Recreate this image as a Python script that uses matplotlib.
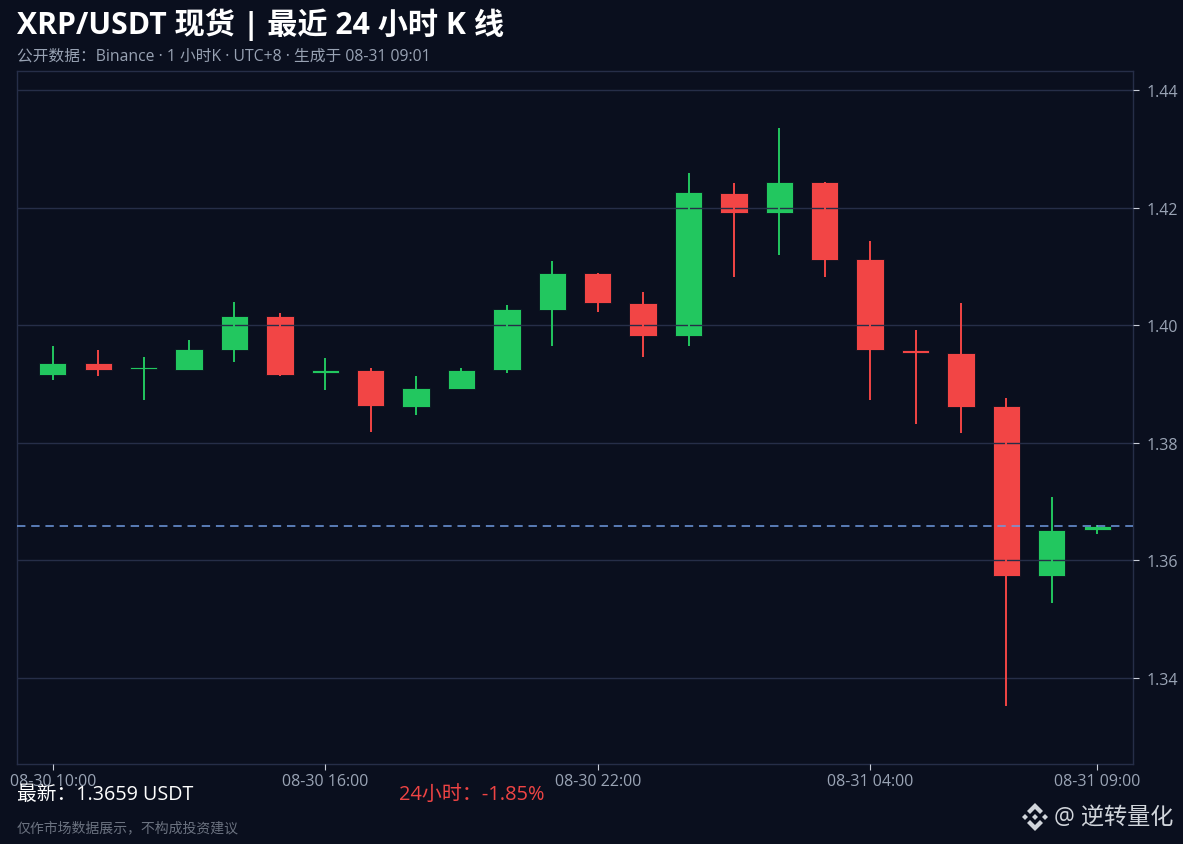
#!/usr/bin/env python
import numpy as np
import matplotlib
matplotlib.use('Agg')
import matplotlib.pyplot as plt
from matplotlib.patches import Polygon

plt.rcParams['font.family'] = ['Open Sans', 'Noto Sans CJK SC', 'DejaVu Sans']

BG = '#0a0f1e'
UP = '#22c75f'
DOWN = '#f24545'

hours = list(range(24))
opens = [1.3916, 1.3936, 1.3925, 1.3924, 1.3958, 1.4016, 1.3918, 1.3923,
         1.3861, 1.3892, 1.3923, 1.4026, 1.4088, 1.4038, 1.3982, 1.4225,
         1.4190, 1.4244, 1.4113, 1.3958, 1.3953, 1.3863, 1.3574, 1.3651]
highs = [1.3965, 1.3957, 1.3946, 1.3975, 1.4040, 1.4020, 1.3945, 1.3928,
         1.3914, 1.3928, 1.4035, 1.4110, 1.4089, 1.4057, 1.4259, 1.4242,
         1.4336, 1.4244, 1.4144, 1.3992, 1.4038, 1.3877, 1.3708, 1.3660]
lows = [1.3907, 1.3914, 1.3873, 1.3923, 1.3938, 1.3914, 1.3890, 1.3819,
        1.3848, 1.3892, 1.3919, 1.3965, 1.4023, 1.3946, 1.3965, 1.4082,
        1.4120, 1.4082, 1.3872, 1.3832, 1.3817, 1.3353, 1.3528, 1.3645]
closes = [1.3936, 1.3924, 1.3929, 1.3960, 1.4016, 1.3916, 1.3923, 1.3863,
          1.3894, 1.3924, 1.4028, 1.4089, 1.4037, 1.3982, 1.4227, 1.4191,
          1.4244, 1.4111, 1.3957, 1.3953, 1.3861, 1.3574, 1.3652, 1.3659]
last_price = 1.3659
xtick_pos = [0, 6, 12, 18, 23]
xtick_labels = ['08-30 10:00', '08-30 16:00', '08-30 22:00', '08-31 04:00', '08-31 09:00']
ytick_pos = [1.34, 1.36, 1.38, 1.40, 1.42, 1.44]

W, H = 1183, 845
fig = plt.figure(figsize=(W / 100, H / 100), dpi=100, facecolor=BG)
ax = fig.add_axes([17 / W, 1 - 764.5 / H, (1133 - 17) / W, (764 - 71) / H], facecolor=BG)

opens = np.array(opens)
closes = np.array(closes)
colors = [UP if c >= o else DOWN for o, c in zip(opens, closes)]

# 实体在网格线下面，影线在上面
ax.bar(hours, np.abs(closes - opens), bottom=np.minimum(opens, closes), width=0.6,
       color=colors, edgecolor=BG, linewidth=0.6, zorder=2)
ax.vlines(hours, lows, highs, colors=colors, linewidth=1.4, zorder=3)

ax.set_axisbelow(False)
ax.yaxis.grid(True, color='#262e48', linewidth=1)
ax.axhline(last_price, color='#6f9ae0', linewidth=1.1, linestyle=(0, (5.5, 3.8)), zorder=5)

ax.set_xlim(-0.79, 23.79)
ax.set_ylim(1.32546, 1.44332)
ax.yaxis.tick_right()
ax.set_yticks(ytick_pos)
ax.set_yticklabels(['%.2f' % v for v in ytick_pos])
ax.set_xticks(xtick_pos)
ax.set_xticklabels(xtick_labels)
ax.tick_params(axis='both', colors='#c8cdd8', labelcolor='#9aa4b5', labelsize=11.5, length=4.5, width=0.8)
ax.tick_params(axis='x', pad=2.5)
ax.tick_params(axis='y', pad=5)
for s in ax.spines.values():
    s.set_color('#262e48')
    s.set_linewidth(1)


def fig_text(x, y, s, **kw):
    fig.text(x / W, 1 - y / H, s, va='center', **kw)


fig_text(17, 25, 'XRP/USDT 现货 | 最近 24 小时 K 线', color='white', fontsize=21.7, fontweight='bold')
fig_text(17, 57, '公开数据：Binance · 1 小时K · UTC+8 · 生成于 08-31 09:01', color='#98a2b3', fontsize=11.3)
fig_text(17, 795, '最新：1.3659 USDT', color='white', fontsize=14.2)
fig_text(399, 795, '24小时：-1.85%', color='#ef4444', fontsize=14.4)
fig_text(17, 829, '仅作市场数据展示，不构成投资建议', color='#6b7280', fontsize=10)
fig_text(1054, 819, '@ 逆转量化', color='#d1d5db', fontsize=16.7)

# 水印的菱形图标
logo = fig.add_axes([1020 / W, 1 - 833 / H, 30 / W, 30 / H])
logo.set_xlim(-15, 15)
logo.set_ylim(-15, 15)
logo.axis('off')
shapes = [
    [(0, 14), (8, 6), (5, 3), (0, 8), (-5, 3), (-8, 6)],
    [(0, -14), (8, -6), (5, -3), (0, -8), (-5, -3), (-8, -6)],
    [(0, 3), (3, 0), (0, -3), (-3, 0)],
    [(10, 3), (13, 0), (10, -3), (7, 0)],
    [(-10, 3), (-7, 0), (-10, -3), (-13, 0)],
]
for pts in shapes:
    logo.add_patch(Polygon(pts, closed=True, facecolor='#d1d5db', edgecolor='none'))

fig.savefig('out.png', dpi=100, facecolor=BG)
